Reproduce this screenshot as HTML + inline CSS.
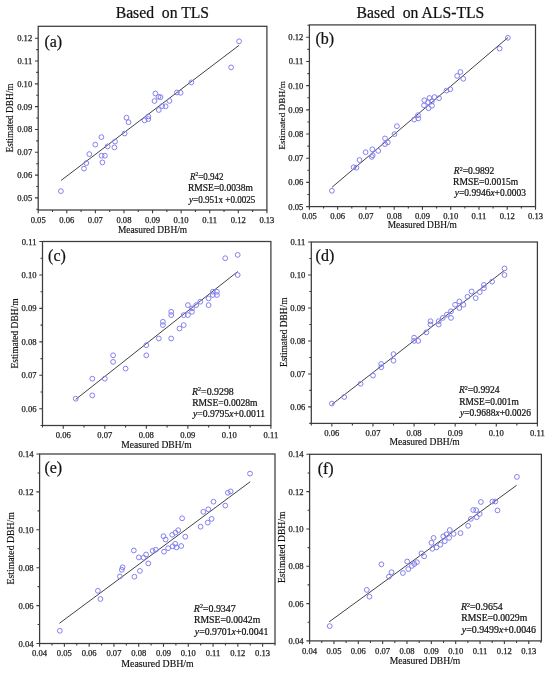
<!DOCTYPE html>
<html><head><meta charset="utf-8"><style>
html,body{margin:0;padding:0;background:#fff;}
svg{display:block;}
text{font-family:"Liberation Serif","Times New Roman",serif;fill:#111;stroke:#111;stroke-width:0.22px;}
.tk{font-size:8.6px;fill:#222;stroke:#222;stroke-width:0.25px;}
.ti{font-size:15.7px;fill:#111;}
.xl,.yl{stroke-width:0.15px;}
.fr{fill:none;stroke:#3c3c3c;stroke-width:1.25;}
.tm{fill:none;stroke:#3c3c3c;stroke-width:1.1;}
.rl{stroke:#383838;stroke-width:0.95;}
.pt{fill:none;stroke:#8480f0;stroke-width:1.0;}

</style></head><body>
<svg width="550" height="673" viewBox="0 0 550 673">
<rect width="550" height="673" fill="#fff"/>
<text x="115.7" y="17.5" class="ti" xml:space="preserve">Based  on TLS</text>
<text x="356.6" y="18" class="ti" xml:space="preserve">Based  on ALS-TLS</text>
<g id="pa"><rect class="fr" x="38.20" y="26.30" width="228.70" height="183.70"/>
<path class="tm" d="M38.20 210.00v3.2M66.79 210.00v3.2M95.38 210.00v3.2M123.96 210.00v3.2M152.55 210.00v3.2M181.14 210.00v3.2M209.72 210.00v3.2M238.31 210.00v3.2M266.90 210.00v3.2M52.49 210.00v2M81.08 210.00v2M109.67 210.00v2M138.26 210.00v2M166.84 210.00v2M195.43 210.00v2M224.02 210.00v2M252.61 210.00v2M38.20 197.90h-3.2M38.20 175.09h-3.2M38.20 152.27h-3.2M38.20 129.46h-3.2M38.20 106.64h-3.2M38.20 83.83h-3.2M38.20 61.01h-3.2M38.20 38.20h-3.2M38.20 209.31h-2M38.20 186.49h-2M38.20 163.68h-2M38.20 140.86h-2M38.20 118.05h-2M38.20 95.24h-2M38.20 72.42h-2M38.20 49.61h-2"/>
<text x="38.20" y="222.70" class="tk" text-anchor="middle">0.05</text>
<text x="66.79" y="222.70" class="tk" text-anchor="middle">0.06</text>
<text x="95.38" y="222.70" class="tk" text-anchor="middle">0.07</text>
<text x="123.96" y="222.70" class="tk" text-anchor="middle">0.08</text>
<text x="152.55" y="222.70" class="tk" text-anchor="middle">0.09</text>
<text x="181.14" y="222.70" class="tk" text-anchor="middle">0.10</text>
<text x="209.72" y="222.70" class="tk" text-anchor="middle">0.11</text>
<text x="238.31" y="222.70" class="tk" text-anchor="middle">0.12</text>
<text x="266.90" y="222.70" class="tk" text-anchor="middle">0.13</text>
<text x="32.20" y="200.90" class="tk" text-anchor="end">0.05</text>
<text x="32.20" y="178.09" class="tk" text-anchor="end">0.06</text>
<text x="32.20" y="155.27" class="tk" text-anchor="end">0.07</text>
<text x="32.20" y="132.46" class="tk" text-anchor="end">0.08</text>
<text x="32.20" y="109.64" class="tk" text-anchor="end">0.09</text>
<text x="32.20" y="86.83" class="tk" text-anchor="end">0.10</text>
<text x="32.20" y="64.01" class="tk" text-anchor="end">0.11</text>
<text x="32.20" y="41.20" class="tk" text-anchor="end">0.12</text>
<text x="152.50" y="233.00" class="xl" font-size="9.41" text-anchor="middle">Measured DBH/m</text>
<text transform="translate(13.30,118.00) rotate(-90)" class="yl" font-size="9.32" text-anchor="middle">Estimated DBH/m</text>
<text transform="translate(44.40,47.10) scale(1,1.07)" class="pl" font-size="16">(a)</text>
<line class="rl" x1="61.07" y1="180.43" x2="239.17" y2="45.26"/>
<circle class="pt" cx="60.9" cy="191.1" r="2.4"/>
<circle class="pt" cx="84.0" cy="168.6" r="2.4"/>
<circle class="pt" cx="86.3" cy="163.1" r="2.4"/>
<circle class="pt" cx="89.3" cy="154.1" r="2.4"/>
<circle class="pt" cx="95.3" cy="144.6" r="2.4"/>
<circle class="pt" cx="101.4" cy="137.1" r="2.4"/>
<circle class="pt" cx="102.4" cy="162.4" r="2.4"/>
<circle class="pt" cx="101.6" cy="155.7" r="2.4"/>
<circle class="pt" cx="104.9" cy="155.7" r="2.4"/>
<circle class="pt" cx="107.6" cy="146.4" r="2.4"/>
<circle class="pt" cx="115.0" cy="141.6" r="2.4"/>
<circle class="pt" cx="114.4" cy="147.4" r="2.4"/>
<circle class="pt" cx="124.6" cy="133.5" r="2.4"/>
<circle class="pt" cx="126.5" cy="117.7" r="2.4"/>
<circle class="pt" cx="128.5" cy="122.2" r="2.4"/>
<circle class="pt" cx="144.5" cy="120.4" r="2.4"/>
<circle class="pt" cx="148.3" cy="116.4" r="2.4"/>
<circle class="pt" cx="148.3" cy="119.1" r="2.4"/>
<circle class="pt" cx="154.5" cy="101.0" r="2.4"/>
<circle class="pt" cx="155.4" cy="93.5" r="2.4"/>
<circle class="pt" cx="158.5" cy="96.8" r="2.4"/>
<circle class="pt" cx="160.5" cy="97.1" r="2.4"/>
<circle class="pt" cx="158.8" cy="110.0" r="2.4"/>
<circle class="pt" cx="162.1" cy="106.1" r="2.4"/>
<circle class="pt" cx="165.6" cy="106.3" r="2.4"/>
<circle class="pt" cx="169.4" cy="100.9" r="2.4"/>
<circle class="pt" cx="176.9" cy="92.5" r="2.4"/>
<circle class="pt" cx="180.6" cy="92.8" r="2.4"/>
<circle class="pt" cx="191.4" cy="82.4" r="2.4"/>
<circle class="pt" cx="231.1" cy="67.4" r="2.4"/>
<circle class="pt" cx="239.1" cy="41.3" r="2.4"/>
<text x="190.00" textLength="33.40" lengthAdjust="spacingAndGlyphs" y="179.50" class="st s1" font-size="9.7"><tspan font-style="italic">R</tspan><tspan dy="-3.5" font-size="6">2</tspan><tspan dy="3.5">=</tspan>0.942</text>
<text x="188.00" textLength="64.80" lengthAdjust="spacingAndGlyphs" y="191.20" class="st s2" font-size="9.7">RMSE=0.0038m</text>
<text x="189.00" textLength="66.40" lengthAdjust="spacingAndGlyphs" y="202.90" class="st s3" font-size="9.7"><tspan font-style="italic">y</tspan>=0.951x +0.0025</text></g>
<g id="pb"><rect class="fr" x="309.40" y="24.90" width="226.10" height="181.70"/>
<path class="tm" d="M309.40 206.60v3.2M337.66 206.60v3.2M365.93 206.60v3.2M394.19 206.60v3.2M422.45 206.60v3.2M450.71 206.60v3.2M478.98 206.60v3.2M507.24 206.60v3.2M535.50 206.60v3.2M323.53 206.60v2M351.79 206.60v2M380.06 206.60v2M408.32 206.60v2M436.58 206.60v2M464.84 206.60v2M493.11 206.60v2M521.37 206.60v2M309.40 206.60h-3.2M309.40 182.41h-3.2M309.40 158.23h-3.2M309.40 134.04h-3.2M309.40 109.86h-3.2M309.40 85.67h-3.2M309.40 61.49h-3.2M309.40 37.30h-3.2M309.40 194.51h-2M309.40 170.32h-2M309.40 146.14h-2M309.40 121.95h-2M309.40 97.76h-2M309.40 73.58h-2M309.40 49.39h-2M309.40 25.21h-2"/>
<text x="309.40" y="219.30" class="tk" text-anchor="middle">0.05</text>
<text x="337.66" y="219.30" class="tk" text-anchor="middle">0.06</text>
<text x="365.93" y="219.30" class="tk" text-anchor="middle">0.07</text>
<text x="394.19" y="219.30" class="tk" text-anchor="middle">0.08</text>
<text x="422.45" y="219.30" class="tk" text-anchor="middle">0.09</text>
<text x="450.71" y="219.30" class="tk" text-anchor="middle">0.10</text>
<text x="478.98" y="219.30" class="tk" text-anchor="middle">0.11</text>
<text x="507.24" y="219.30" class="tk" text-anchor="middle">0.12</text>
<text x="535.50" y="219.30" class="tk" text-anchor="middle">0.13</text>
<text x="303.40" y="209.60" class="tk" text-anchor="end">0.05</text>
<text x="303.40" y="185.41" class="tk" text-anchor="end">0.06</text>
<text x="303.40" y="161.23" class="tk" text-anchor="end">0.07</text>
<text x="303.40" y="137.04" class="tk" text-anchor="end">0.08</text>
<text x="303.40" y="112.86" class="tk" text-anchor="end">0.09</text>
<text x="303.40" y="88.67" class="tk" text-anchor="end">0.10</text>
<text x="303.40" y="64.49" class="tk" text-anchor="end">0.11</text>
<text x="303.40" y="40.30" class="tk" text-anchor="end">0.12</text>
<text x="422.30" y="227.80" class="xl" font-size="9.41" text-anchor="middle">Measured DBH/m</text>
<text transform="translate(285.40,115.40) rotate(-90)" class="yl" font-size="9.25" text-anchor="middle">Estimated DBH/m</text>
<text transform="translate(315.50,44.30) scale(1,1.07)" class="pl" font-size="16">(b)</text>
<line class="rl" x1="332.01" y1="187.28" x2="508.09" y2="37.42"/>
<circle class="pt" cx="331.9" cy="190.8" r="2.4"/>
<circle class="pt" cx="353.6" cy="167.3" r="2.4"/>
<circle class="pt" cx="356.4" cy="167.7" r="2.4"/>
<circle class="pt" cx="359.5" cy="160.0" r="2.4"/>
<circle class="pt" cx="365.6" cy="152.2" r="2.4"/>
<circle class="pt" cx="372.3" cy="149.3" r="2.4"/>
<circle class="pt" cx="372.7" cy="155.3" r="2.4"/>
<circle class="pt" cx="371.8" cy="156.9" r="2.4"/>
<circle class="pt" cx="378.2" cy="150.9" r="2.4"/>
<circle class="pt" cx="385.0" cy="138.4" r="2.4"/>
<circle class="pt" cx="385.0" cy="144.1" r="2.4"/>
<circle class="pt" cx="387.8" cy="142.4" r="2.4"/>
<circle class="pt" cx="394.5" cy="134.1" r="2.4"/>
<circle class="pt" cx="396.9" cy="126.2" r="2.4"/>
<circle class="pt" cx="414.2" cy="119.6" r="2.4"/>
<circle class="pt" cx="418.0" cy="115.2" r="2.4"/>
<circle class="pt" cx="418.3" cy="118.4" r="2.4"/>
<circle class="pt" cx="424.3" cy="100.3" r="2.4"/>
<circle class="pt" cx="429.4" cy="98.0" r="2.4"/>
<circle class="pt" cx="428.1" cy="102.2" r="2.4"/>
<circle class="pt" cx="424.0" cy="105.4" r="2.4"/>
<circle class="pt" cx="428.5" cy="108.2" r="2.4"/>
<circle class="pt" cx="432.0" cy="105.7" r="2.4"/>
<circle class="pt" cx="431.8" cy="101.5" r="2.4"/>
<circle class="pt" cx="434.5" cy="97.1" r="2.4"/>
<circle class="pt" cx="439.0" cy="98.2" r="2.4"/>
<circle class="pt" cx="446.5" cy="90.6" r="2.4"/>
<circle class="pt" cx="450.3" cy="89.3" r="2.4"/>
<circle class="pt" cx="457.2" cy="75.9" r="2.4"/>
<circle class="pt" cx="460.4" cy="72.0" r="2.4"/>
<circle class="pt" cx="463.3" cy="78.8" r="2.4"/>
<circle class="pt" cx="499.6" cy="48.6" r="2.4"/>
<circle class="pt" cx="507.9" cy="37.8" r="2.4"/>
<text x="453.80" textLength="40.60" lengthAdjust="spacingAndGlyphs" y="174.00" class="st s1" font-size="9.7"><tspan font-style="italic">R</tspan><tspan dy="-3.5" font-size="6">2</tspan><tspan dy="3.5">=</tspan>0.9892</text>
<text x="453.00" textLength="65.20" lengthAdjust="spacingAndGlyphs" y="185.20" class="st s2" font-size="9.7">RMSE=0.0015m</text>
<text x="454.80" textLength="71.20" lengthAdjust="spacingAndGlyphs" y="196.40" class="st s3" font-size="9.7"><tspan font-style="italic">y</tspan>=0.9946<tspan font-style="italic">x</tspan>+0.0003</text></g>
<g id="pc"><rect class="fr" x="42.50" y="241.50" width="228.40" height="184.00"/>
<path class="tm" d="M63.26 425.50v3.2M104.79 425.50v3.2M146.32 425.50v3.2M187.85 425.50v3.2M229.37 425.50v3.2M270.90 425.50v3.2M42.50 425.50v2M84.03 425.50v2M125.55 425.50v2M167.08 425.50v2M208.61 425.50v2M250.14 425.50v2M42.50 408.77h-3.2M42.50 375.32h-3.2M42.50 341.86h-3.2M42.50 308.41h-3.2M42.50 274.95h-3.2M42.50 241.50h-3.2M42.50 425.50h-2M42.50 392.05h-2M42.50 358.59h-2M42.50 325.14h-2M42.50 291.68h-2M42.50 258.23h-2"/>
<text x="63.26" y="438.20" class="tk" text-anchor="middle">0.06</text>
<text x="104.79" y="438.20" class="tk" text-anchor="middle">0.07</text>
<text x="146.32" y="438.20" class="tk" text-anchor="middle">0.08</text>
<text x="187.85" y="438.20" class="tk" text-anchor="middle">0.09</text>
<text x="229.37" y="438.20" class="tk" text-anchor="middle">0.10</text>
<text x="270.90" y="438.20" class="tk" text-anchor="middle">0.11</text>
<text x="36.50" y="411.77" class="tk" text-anchor="end">0.06</text>
<text x="36.50" y="378.32" class="tk" text-anchor="end">0.07</text>
<text x="36.50" y="344.86" class="tk" text-anchor="end">0.08</text>
<text x="36.50" y="311.41" class="tk" text-anchor="end">0.09</text>
<text x="36.50" y="277.95" class="tk" text-anchor="end">0.10</text>
<text x="36.50" y="244.50" class="tk" text-anchor="end">0.11</text>
<text x="156.50" y="447.80" class="xl" font-size="9.55" text-anchor="middle">Measured DBH/m</text>
<text transform="translate(17.60,333.50) rotate(-90)" class="yl" font-size="9.46" text-anchor="middle">Estimated DBH/m</text>
<text transform="translate(48.10,261.00) scale(1,1.07)" class="pl" font-size="16">(c)</text>
<line class="rl" x1="75.72" y1="399.38" x2="237.68" y2="271.58"/>
<circle class="pt" cx="75.7" cy="398.7" r="2.4"/>
<circle class="pt" cx="92.3" cy="395.4" r="2.4"/>
<circle class="pt" cx="92.3" cy="378.7" r="2.4"/>
<circle class="pt" cx="104.8" cy="378.7" r="2.4"/>
<circle class="pt" cx="113.1" cy="361.9" r="2.4"/>
<circle class="pt" cx="113.1" cy="355.3" r="2.4"/>
<circle class="pt" cx="125.6" cy="368.6" r="2.4"/>
<circle class="pt" cx="146.3" cy="355.3" r="2.4"/>
<circle class="pt" cx="146.3" cy="345.2" r="2.4"/>
<circle class="pt" cx="158.8" cy="338.5" r="2.4"/>
<circle class="pt" cx="171.2" cy="338.5" r="2.4"/>
<circle class="pt" cx="162.9" cy="321.8" r="2.4"/>
<circle class="pt" cx="162.9" cy="325.1" r="2.4"/>
<circle class="pt" cx="171.2" cy="311.8" r="2.4"/>
<circle class="pt" cx="171.2" cy="315.1" r="2.4"/>
<circle class="pt" cx="179.5" cy="328.5" r="2.4"/>
<circle class="pt" cx="183.7" cy="325.1" r="2.4"/>
<circle class="pt" cx="183.7" cy="315.1" r="2.4"/>
<circle class="pt" cx="187.9" cy="305.1" r="2.4"/>
<circle class="pt" cx="187.9" cy="315.1" r="2.4"/>
<circle class="pt" cx="192.0" cy="311.8" r="2.4"/>
<circle class="pt" cx="192.0" cy="308.4" r="2.4"/>
<circle class="pt" cx="196.2" cy="305.1" r="2.4"/>
<circle class="pt" cx="200.3" cy="301.7" r="2.4"/>
<circle class="pt" cx="208.6" cy="298.4" r="2.4"/>
<circle class="pt" cx="208.6" cy="305.1" r="2.4"/>
<circle class="pt" cx="212.8" cy="291.7" r="2.4"/>
<circle class="pt" cx="216.9" cy="291.7" r="2.4"/>
<circle class="pt" cx="212.8" cy="295.0" r="2.4"/>
<circle class="pt" cx="216.9" cy="295.0" r="2.4"/>
<circle class="pt" cx="225.2" cy="258.2" r="2.4"/>
<circle class="pt" cx="237.7" cy="254.9" r="2.4"/>
<circle class="pt" cx="237.7" cy="275.0" r="2.4"/>
<text x="192.00" textLength="41.80" lengthAdjust="spacingAndGlyphs" y="394.60" class="st s1" font-size="9.9"><tspan font-style="italic">R</tspan><tspan dy="-3.5" font-size="6">2</tspan><tspan dy="3.5">=</tspan>0.9298</text>
<text x="192.20" textLength="65.40" lengthAdjust="spacingAndGlyphs" y="405.60" class="st s2" font-size="9.9">RMSE=0.0028m</text>
<text x="193.00" textLength="72.20" lengthAdjust="spacingAndGlyphs" y="416.60" class="st s3" font-size="9.9"><tspan font-style="italic">y</tspan>=0.9795<tspan font-style="italic">x</tspan>+0.0011</text></g>
<g id="pd"><rect class="fr" x="311.30" y="242.00" width="226.10" height="181.40"/>
<path class="tm" d="M331.85 423.40v3.2M372.96 423.40v3.2M414.07 423.40v3.2M455.18 423.40v3.2M496.29 423.40v3.2M537.40 423.40v3.2M311.30 423.40v2M352.41 423.40v2M393.52 423.40v2M434.63 423.40v2M475.74 423.40v2M516.85 423.40v2M311.30 406.91h-3.2M311.30 373.93h-3.2M311.30 340.95h-3.2M311.30 307.96h-3.2M311.30 274.98h-3.2M311.30 242.00h-3.2M311.30 423.40h-2M311.30 390.42h-2M311.30 357.44h-2M311.30 324.45h-2M311.30 291.47h-2M311.30 258.49h-2"/>
<text x="331.85" y="436.10" class="tk" text-anchor="middle">0.06</text>
<text x="372.96" y="436.10" class="tk" text-anchor="middle">0.07</text>
<text x="414.07" y="436.10" class="tk" text-anchor="middle">0.08</text>
<text x="455.18" y="436.10" class="tk" text-anchor="middle">0.09</text>
<text x="496.29" y="436.10" class="tk" text-anchor="middle">0.10</text>
<text x="537.40" y="436.10" class="tk" text-anchor="middle">0.11</text>
<text x="305.30" y="409.91" class="tk" text-anchor="end">0.06</text>
<text x="305.30" y="376.93" class="tk" text-anchor="end">0.07</text>
<text x="305.30" y="343.95" class="tk" text-anchor="end">0.08</text>
<text x="305.30" y="310.96" class="tk" text-anchor="end">0.09</text>
<text x="305.30" y="277.98" class="tk" text-anchor="end">0.10</text>
<text x="305.30" y="245.00" class="tk" text-anchor="end">0.11</text>
<text x="424.60" y="445.00" class="xl" font-size="9.55" text-anchor="middle">Measured DBH/m</text>
<text transform="translate(286.80,332.30) rotate(-90)" class="yl" font-size="9.40" text-anchor="middle">Estimated DBH/m</text>
<text transform="translate(315.60,261.20) scale(1,1.07)" class="pl" font-size="16">(d)</text>
<line class="rl" x1="331.85" y1="404.51" x2="504.51" y2="270.31"/>
<circle class="pt" cx="331.9" cy="403.6" r="2.4"/>
<circle class="pt" cx="344.2" cy="397.0" r="2.4"/>
<circle class="pt" cx="360.6" cy="383.8" r="2.4"/>
<circle class="pt" cx="373.0" cy="375.6" r="2.4"/>
<circle class="pt" cx="381.2" cy="364.0" r="2.4"/>
<circle class="pt" cx="381.2" cy="367.3" r="2.4"/>
<circle class="pt" cx="393.5" cy="354.1" r="2.4"/>
<circle class="pt" cx="393.5" cy="360.7" r="2.4"/>
<circle class="pt" cx="414.1" cy="337.7" r="2.4"/>
<circle class="pt" cx="414.1" cy="340.9" r="2.4"/>
<circle class="pt" cx="418.2" cy="340.9" r="2.4"/>
<circle class="pt" cx="426.4" cy="332.4" r="2.4"/>
<circle class="pt" cx="430.5" cy="321.2" r="2.4"/>
<circle class="pt" cx="430.5" cy="324.5" r="2.4"/>
<circle class="pt" cx="438.7" cy="321.2" r="2.4"/>
<circle class="pt" cx="438.7" cy="324.5" r="2.4"/>
<circle class="pt" cx="442.8" cy="317.9" r="2.4"/>
<circle class="pt" cx="446.9" cy="314.6" r="2.4"/>
<circle class="pt" cx="451.0" cy="311.3" r="2.4"/>
<circle class="pt" cx="451.0" cy="317.9" r="2.4"/>
<circle class="pt" cx="455.1" cy="304.7" r="2.4"/>
<circle class="pt" cx="459.3" cy="301.4" r="2.4"/>
<circle class="pt" cx="459.3" cy="308.0" r="2.4"/>
<circle class="pt" cx="463.4" cy="304.7" r="2.4"/>
<circle class="pt" cx="467.5" cy="296.8" r="2.4"/>
<circle class="pt" cx="471.6" cy="291.5" r="2.4"/>
<circle class="pt" cx="475.7" cy="298.1" r="2.4"/>
<circle class="pt" cx="479.8" cy="292.1" r="2.4"/>
<circle class="pt" cx="483.9" cy="284.9" r="2.4"/>
<circle class="pt" cx="483.9" cy="288.2" r="2.4"/>
<circle class="pt" cx="492.1" cy="281.6" r="2.4"/>
<circle class="pt" cx="504.5" cy="268.4" r="2.4"/>
<circle class="pt" cx="504.5" cy="275.0" r="2.4"/>
<text x="459.00" textLength="40.60" lengthAdjust="spacingAndGlyphs" y="393.40" class="st s1" font-size="9.7"><tspan font-style="italic">R</tspan><tspan dy="-3.5" font-size="6">2</tspan><tspan dy="3.5">=</tspan>0.9924</text>
<text x="459.20" textLength="59.60" lengthAdjust="spacingAndGlyphs" y="404.60" class="st s2" font-size="9.7">RMSE=0.001m</text>
<text x="460.00" textLength="71.00" lengthAdjust="spacingAndGlyphs" y="415.80" class="st s3" font-size="9.7"><tspan font-style="italic">y</tspan>=0.9688<tspan font-style="italic">x</tspan>+0.0026</text></g>
<g id="pe"><rect class="fr" x="39.60" y="454.00" width="235.40" height="189.50"/>
<path class="tm" d="M39.60 643.50v3.2M64.38 643.50v3.2M89.16 643.50v3.2M113.94 643.50v3.2M138.72 643.50v3.2M163.49 643.50v3.2M188.27 643.50v3.2M213.05 643.50v3.2M237.83 643.50v3.2M262.61 643.50v3.2M51.99 643.50v2M76.77 643.50v2M101.55 643.50v2M126.33 643.50v2M151.11 643.50v2M175.88 643.50v2M200.66 643.50v2M225.44 643.50v2M250.22 643.50v2M275.00 643.50v2M39.60 643.50h-3.2M39.60 605.60h-3.2M39.60 567.70h-3.2M39.60 529.80h-3.2M39.60 491.90h-3.2M39.60 454.00h-3.2M39.60 624.55h-2M39.60 586.65h-2M39.60 548.75h-2M39.60 510.85h-2M39.60 472.95h-2"/>
<text x="39.60" y="656.20" class="tk" text-anchor="middle">0.04</text>
<text x="64.38" y="656.20" class="tk" text-anchor="middle">0.05</text>
<text x="89.16" y="656.20" class="tk" text-anchor="middle">0.06</text>
<text x="113.94" y="656.20" class="tk" text-anchor="middle">0.07</text>
<text x="138.72" y="656.20" class="tk" text-anchor="middle">0.08</text>
<text x="163.49" y="656.20" class="tk" text-anchor="middle">0.09</text>
<text x="188.27" y="656.20" class="tk" text-anchor="middle">0.10</text>
<text x="213.05" y="656.20" class="tk" text-anchor="middle">0.11</text>
<text x="237.83" y="656.20" class="tk" text-anchor="middle">0.12</text>
<text x="262.61" y="656.20" class="tk" text-anchor="middle">0.13</text>
<text x="33.60" y="646.50" class="tk" text-anchor="end">0.04</text>
<text x="33.60" y="608.60" class="tk" text-anchor="end">0.06</text>
<text x="33.60" y="570.70" class="tk" text-anchor="end">0.08</text>
<text x="33.60" y="532.80" class="tk" text-anchor="end">0.10</text>
<text x="33.60" y="494.90" class="tk" text-anchor="end">0.12</text>
<text x="33.60" y="457.00" class="tk" text-anchor="end">0.14</text>
<text x="157.50" y="667.30" class="xl" font-size="9.86" text-anchor="middle">Measured DBH/m</text>
<text transform="translate(14.20,548.30) rotate(-90)" class="yl" font-size="9.78" text-anchor="middle">Estimated DBH/m</text>
<text transform="translate(44.40,473.20) scale(1,1.07)" class="pl" font-size="16">(e)</text>
<line class="rl" x1="59.42" y1="623.29" x2="250.22" y2="481.74"/>
<circle class="pt" cx="59.8" cy="630.8" r="2.4"/>
<circle class="pt" cx="97.9" cy="590.8" r="2.4"/>
<circle class="pt" cx="100.4" cy="599.0" r="2.4"/>
<circle class="pt" cx="119.9" cy="576.4" r="2.4"/>
<circle class="pt" cx="121.8" cy="569.8" r="2.4"/>
<circle class="pt" cx="122.6" cy="567.3" r="2.4"/>
<circle class="pt" cx="134.4" cy="576.7" r="2.4"/>
<circle class="pt" cx="139.9" cy="570.9" r="2.4"/>
<circle class="pt" cx="133.8" cy="550.5" r="2.4"/>
<circle class="pt" cx="138.8" cy="557.4" r="2.4"/>
<circle class="pt" cx="143.6" cy="557.7" r="2.4"/>
<circle class="pt" cx="146.1" cy="554.5" r="2.4"/>
<circle class="pt" cx="148.3" cy="563.4" r="2.4"/>
<circle class="pt" cx="152.6" cy="550.8" r="2.4"/>
<circle class="pt" cx="155.7" cy="549.7" r="2.4"/>
<circle class="pt" cx="163.5" cy="536.2" r="2.4"/>
<circle class="pt" cx="165.6" cy="539.5" r="2.4"/>
<circle class="pt" cx="172.2" cy="534.8" r="2.4"/>
<circle class="pt" cx="175.5" cy="532.6" r="2.4"/>
<circle class="pt" cx="178.2" cy="530.2" r="2.4"/>
<circle class="pt" cx="185.3" cy="536.7" r="2.4"/>
<circle class="pt" cx="164.0" cy="551.7" r="2.4"/>
<circle class="pt" cx="168.1" cy="548.2" r="2.4"/>
<circle class="pt" cx="172.7" cy="546.3" r="2.4"/>
<circle class="pt" cx="175.2" cy="543.8" r="2.4"/>
<circle class="pt" cx="176.5" cy="547.4" r="2.4"/>
<circle class="pt" cx="181.2" cy="546.0" r="2.4"/>
<circle class="pt" cx="182.1" cy="518.3" r="2.4"/>
<circle class="pt" cx="200.6" cy="526.7" r="2.4"/>
<circle class="pt" cx="203.3" cy="511.8" r="2.4"/>
<circle class="pt" cx="208.3" cy="509.3" r="2.4"/>
<circle class="pt" cx="207.7" cy="522.6" r="2.4"/>
<circle class="pt" cx="211.6" cy="518.9" r="2.4"/>
<circle class="pt" cx="213.5" cy="501.7" r="2.4"/>
<circle class="pt" cx="225.3" cy="505.6" r="2.4"/>
<circle class="pt" cx="227.8" cy="492.8" r="2.4"/>
<circle class="pt" cx="230.6" cy="491.4" r="2.4"/>
<circle class="pt" cx="250.0" cy="473.6" r="2.4"/>
<text x="193.80" textLength="42.00" lengthAdjust="spacingAndGlyphs" y="611.60" class="st s1" font-size="10.1"><tspan font-style="italic">R</tspan><tspan dy="-3.5" font-size="6">2</tspan><tspan dy="3.5">=</tspan>0.9347</text>
<text x="194.00" textLength="66.20" lengthAdjust="spacingAndGlyphs" y="623.30" class="st s2" font-size="10.1">RMSE=0.0042m</text>
<text x="194.80" textLength="73.60" lengthAdjust="spacingAndGlyphs" y="635.00" class="st s3" font-size="10.1"><tspan font-style="italic">y</tspan>=0.9701<tspan font-style="italic">x</tspan>+0.0041</text></g>
<g id="pf"><rect class="fr" x="309.60" y="454.30" width="231.80" height="186.60"/>
<path class="tm" d="M309.60 640.90v3.2M333.95 640.90v3.2M358.29 640.90v3.2M382.64 640.90v3.2M406.99 640.90v3.2M431.34 640.90v3.2M455.68 640.90v3.2M480.03 640.90v3.2M504.38 640.90v3.2M528.73 640.90v3.2M321.77 640.90v2M346.12 640.90v2M370.47 640.90v2M394.82 640.90v2M419.16 640.90v2M443.51 640.90v2M467.86 640.90v2M492.21 640.90v2M516.55 640.90v2M540.90 640.90v2M309.60 640.90h-3.2M309.60 603.58h-3.2M309.60 566.26h-3.2M309.60 528.94h-3.2M309.60 491.62h-3.2M309.60 454.30h-3.2M309.60 622.24h-2M309.60 584.92h-2M309.60 547.60h-2M309.60 510.28h-2M309.60 472.96h-2"/>
<text x="309.60" y="653.60" class="tk" text-anchor="middle">0.04</text>
<text x="333.95" y="653.60" class="tk" text-anchor="middle">0.05</text>
<text x="358.29" y="653.60" class="tk" text-anchor="middle">0.06</text>
<text x="382.64" y="653.60" class="tk" text-anchor="middle">0.07</text>
<text x="406.99" y="653.60" class="tk" text-anchor="middle">0.08</text>
<text x="431.34" y="653.60" class="tk" text-anchor="middle">0.09</text>
<text x="455.68" y="653.60" class="tk" text-anchor="middle">0.10</text>
<text x="480.03" y="653.60" class="tk" text-anchor="middle">0.11</text>
<text x="504.38" y="653.60" class="tk" text-anchor="middle">0.12</text>
<text x="528.73" y="653.60" class="tk" text-anchor="middle">0.13</text>
<text x="303.60" y="643.90" class="tk" text-anchor="end">0.04</text>
<text x="303.60" y="606.58" class="tk" text-anchor="end">0.06</text>
<text x="303.60" y="569.26" class="tk" text-anchor="end">0.08</text>
<text x="303.60" y="531.94" class="tk" text-anchor="end">0.10</text>
<text x="303.60" y="494.62" class="tk" text-anchor="end">0.12</text>
<text x="303.60" y="457.30" class="tk" text-anchor="end">0.14</text>
<text x="425.00" y="664.40" class="xl" font-size="9.61" text-anchor="middle">Measured DBH/m</text>
<text transform="translate(284.70,547.30) rotate(-90)" class="yl" font-size="9.66" text-anchor="middle">Estimated DBH/m</text>
<text transform="translate(317.70,473.60) scale(1,1.07)" class="pl" font-size="16">(f)</text>
<line class="rl" x1="329.08" y1="621.88" x2="516.55" y2="485.39"/>
<circle class="pt" cx="329.7" cy="626.1" r="2.4"/>
<circle class="pt" cx="366.8" cy="589.9" r="2.4"/>
<circle class="pt" cx="369.5" cy="596.7" r="2.4"/>
<circle class="pt" cx="381.4" cy="564.3" r="2.4"/>
<circle class="pt" cx="388.9" cy="576.7" r="2.4"/>
<circle class="pt" cx="391.5" cy="572.2" r="2.4"/>
<circle class="pt" cx="402.9" cy="573.0" r="2.4"/>
<circle class="pt" cx="407.2" cy="561.5" r="2.4"/>
<circle class="pt" cx="408.3" cy="569.1" r="2.4"/>
<circle class="pt" cx="411.9" cy="565.9" r="2.4"/>
<circle class="pt" cx="414.3" cy="564.0" r="2.4"/>
<circle class="pt" cx="416.9" cy="562.2" r="2.4"/>
<circle class="pt" cx="421.5" cy="553.4" r="2.4"/>
<circle class="pt" cx="424.1" cy="556.3" r="2.4"/>
<circle class="pt" cx="431.4" cy="542.8" r="2.4"/>
<circle class="pt" cx="433.6" cy="537.9" r="2.4"/>
<circle class="pt" cx="432.3" cy="548.8" r="2.4"/>
<circle class="pt" cx="436.5" cy="547.4" r="2.4"/>
<circle class="pt" cx="440.4" cy="544.7" r="2.4"/>
<circle class="pt" cx="443.3" cy="536.3" r="2.4"/>
<circle class="pt" cx="444.8" cy="541.2" r="2.4"/>
<circle class="pt" cx="446.5" cy="534.4" r="2.4"/>
<circle class="pt" cx="449.1" cy="537.9" r="2.4"/>
<circle class="pt" cx="449.8" cy="530.0" r="2.4"/>
<circle class="pt" cx="453.6" cy="533.9" r="2.4"/>
<circle class="pt" cx="460.5" cy="533.1" r="2.4"/>
<circle class="pt" cx="468.1" cy="525.8" r="2.4"/>
<circle class="pt" cx="470.8" cy="518.9" r="2.4"/>
<circle class="pt" cx="473.2" cy="510.0" r="2.4"/>
<circle class="pt" cx="476.1" cy="510.2" r="2.4"/>
<circle class="pt" cx="476.7" cy="517.2" r="2.4"/>
<circle class="pt" cx="479.7" cy="513.9" r="2.4"/>
<circle class="pt" cx="480.9" cy="502.0" r="2.4"/>
<circle class="pt" cx="492.4" cy="501.5" r="2.4"/>
<circle class="pt" cx="495.3" cy="501.5" r="2.4"/>
<circle class="pt" cx="497.5" cy="510.4" r="2.4"/>
<circle class="pt" cx="516.9" cy="476.9" r="2.4"/>
<text x="461.00" textLength="41.80" lengthAdjust="spacingAndGlyphs" y="610.00" class="st s1" font-size="10.0"><tspan font-style="italic">R</tspan><tspan dy="-3.5" font-size="6">2</tspan><tspan dy="3.5">=</tspan>0.9654</text>
<text x="461.20" textLength="66.00" lengthAdjust="spacingAndGlyphs" y="621.30" class="st s2" font-size="10.0">RMSE=0.0029m</text>
<text x="461.80" textLength="74.20" lengthAdjust="spacingAndGlyphs" y="632.60" class="st s3" font-size="10.0"><tspan font-style="italic">y</tspan>=0.9499<tspan font-style="italic">x</tspan>+0.0046</text></g>
</svg>
</body></html>
